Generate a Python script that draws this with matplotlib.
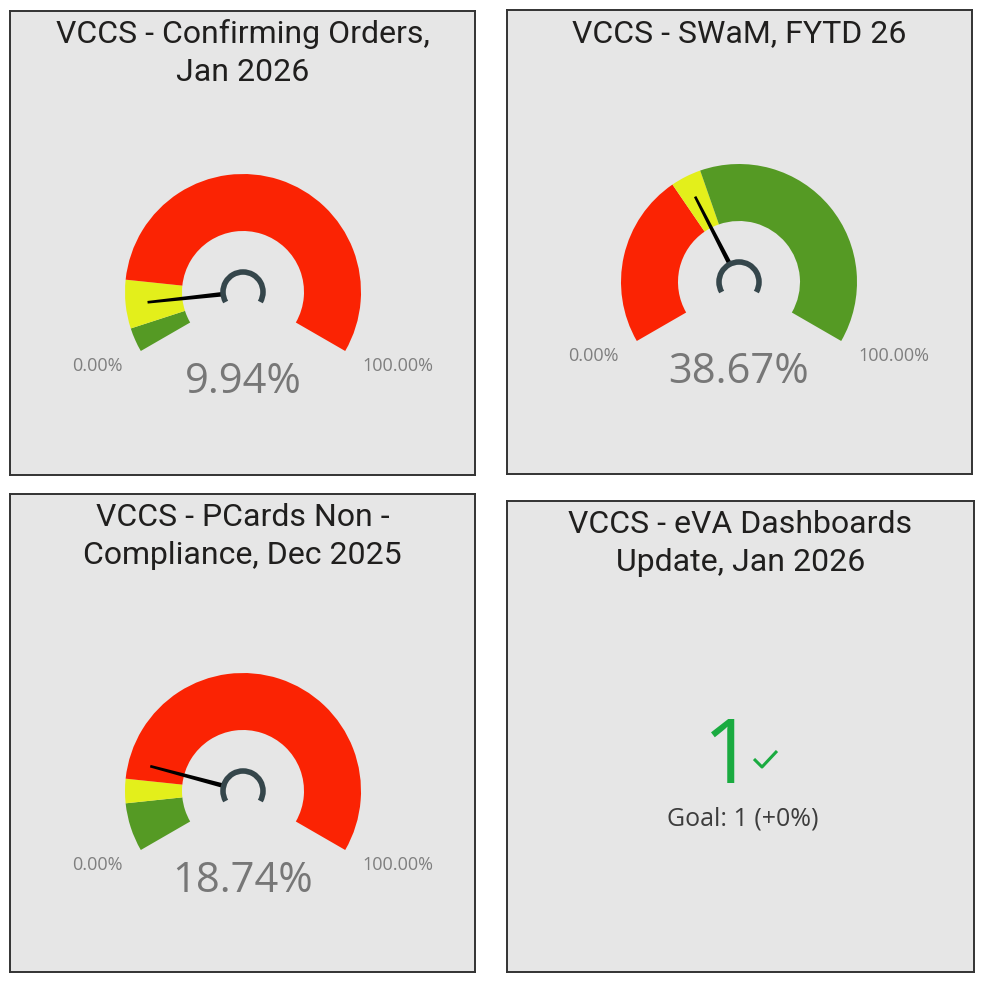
import numpy as np
import matplotlib
matplotlib.use("Agg")
import matplotlib.pyplot as plt
from matplotlib.patches import Wedge, Arc, Polygon

# panel titles (one list of lines per card)
titles = [
    ["VCCS - Confirming Orders,", "Jan 2026"],
    ["VCCS - SWaM, FYTD 26"],
    ["VCCS - PCards Non -", "Compliance, Dec 2025"],
    ["VCCS - eVA Dashboards", "Update, Jan 2026"],
]

# gauge values (percent)
gauge_values = [9.94, 38.67, 18.74]
gauge_min = [0.0, 0.0, 0.0]
gauge_max = [100.0, 100.0, 100.0]

# colour bands for each gauge: band edges and colour names
band_edges = [
    [0, 5, 15, 100],
    [0, 35.7, 42, 100],
    [0, 10, 15, 100],
]
band_colors = [
    ["green", "yellow", "red"],
    ["red", "yellow", "green"],
    ["green", "yellow", "red"],
]

# kpi card
kpi_value = 1
kpi_goal = 1

COLORS = {"red": "#fb2303", "yellow": "#e3ef1b", "green": "#559a24"}
BG = "#e6e6e6"
HUB = "#35464b"

W, H = 988, 987
# panel boxes in pixels: x0, y0, x1, y1 (top-left origin)
boxes = [(10, 12, 475, 476), (507, 11, 972, 475),
         (10, 495, 475, 973), (507, 502, 974, 973)]
gauge_centers = [(233, 183), (232, 192), (233, 181)]
R_OUT, R_IN = 118, 61
START, SWEEP = 210, 240

fig = plt.figure(figsize=(W / 100, H / 100), dpi=100)
fig.patch.set_facecolor("white")


def make_panel(box):
    x0, y0, x1, y1 = box
    ax = fig.add_axes([x0 / W, 1 - y1 / H, (x1 - x0) / W, (y1 - y0) / H])
    ax.set_xlim(0, x1 - x0)
    ax.set_ylim(0, y1 - y0)
    ax.set_facecolor(BG)
    ax.set_xticks([])
    ax.set_yticks([])
    for s in ax.spines.values():
        s.set_color("#333333")
        s.set_linewidth(1.4)
    return ax


def angle_of(v, lo, hi):
    return START - SWEEP * (v - lo) / (hi - lo)


axes = [make_panel(b) for b in boxes]

for ax, box, lines in zip(axes, boxes, titles):
    w = box[2] - box[0]
    h = box[3] - box[1]
    for i, line in enumerate(lines):
        ax.text(w / 2, h - 31 - 38 * i, line, ha="center", va="baseline",
                fontsize=23, family="Roboto", color="#201f1e")

for i in range(3):
    ax = axes[i]
    cx, cy = gauge_centers[i]
    lo, hi = gauge_min[i], gauge_max[i]
    edges = band_edges[i]
    for a, b, c in zip(edges[:-1], edges[1:], band_colors[i]):
        ax.add_patch(Wedge((cx, cy), R_OUT, angle_of(b, lo, hi), angle_of(a, lo, hi),
                           width=R_OUT - R_IN, facecolor=COLORS[c], edgecolor="none"))

    # needle
    t = np.radians(angle_of(gauge_values[i], lo, hi))
    d = np.array([np.cos(t), np.sin(t)])
    n = np.array([-np.sin(t), np.cos(t)])
    c0 = np.array([cx, cy])
    pts = [c0 + 19 * d + 2.3 * n, c0 + 96 * d + 1.3 * n,
           c0 + 96 * d - 1.3 * n, c0 + 19 * d - 2.3 * n]
    ax.add_patch(Polygon(pts, closed=True, facecolor="black", edgecolor="none"))

    # hub
    ax.add_patch(Arc((cx, cy), 40, 40, theta1=-30, theta2=210,
                     color=HUB, linewidth=4))

    ax.text(cx - 146, cy - 73, f"{lo:.2f}%", ha="center", va="center",
            fontsize=13, family="Open Sans", color="#7f7f7f")
    ax.text(cx + 155, cy - 73, f"{hi:.2f}%", ha="center", va="center",
            fontsize=13, family="Open Sans", color="#7f7f7f")
    ax.text(cx, cy - 89, f"{gauge_values[i]:.2f}%", ha="center", va="center",
            fontsize=30, family="Open Sans", color="#777777")

# kpi card
ax = axes[3]
ax.text(221, 213, str(kpi_value), ha="center", va="center",
        fontsize=64, family="Open Sans", color="#1aab40")
ax.plot([247, 255, 270], [213, 205, 221], color="#1aab40", linewidth=2.2,
        solid_capstyle="butt")
pct = (kpi_value - kpi_goal) / kpi_goal * 100
ax.text(236, 154, f"Goal: {kpi_goal} (+{pct:.0f}%)", ha="center", va="center",
        fontsize=18, family="Open Sans", color="#3d3d3d")

fig.savefig("out.png", dpi=100, facecolor="white")
